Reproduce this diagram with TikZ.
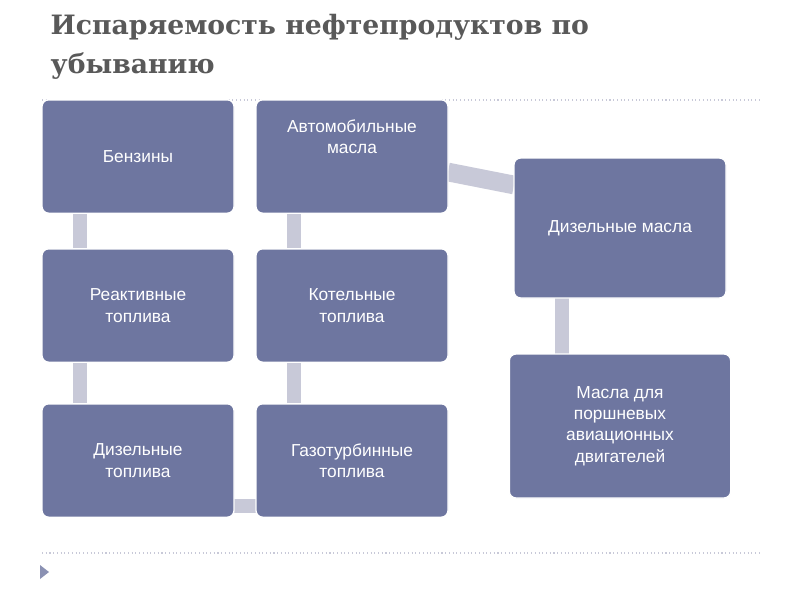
\documentclass[tikz,border=0pt]{standalone}
\usepackage{fontspec}
\setmainfont{Liberation Sans}
\newfontfamily\titlefont{DejaVu Serif}
\definecolor{boxc}{HTML}{6E76A0}
\definecolor{barc}{HTML}{C8C9D8}
\definecolor{titc}{HTML}{595959}
\begin{document}
\begin{tikzpicture}[x=0.75pt,y=-0.75pt,
  bx/.style={fill=boxc,draw=white,line width=1pt,rounded corners=5pt,text=white,align=center,font=\fontsize{13}{16}\selectfont,inner sep=0pt},
  bar/.style={draw=barc,line width=10pt}]
\useasboundingbox (0,0) rectangle (800,600);
\fill[white] (0,0) rectangle (800,600);
\node[anchor=west,text=titc,font=\titlefont\bfseries\fontsize{20}{24}\selectfont] (t1) at (46,27) {Испаряемость нефтепродуктов по};
\node[anchor=west,text=titc,font=\titlefont\bfseries\fontsize{20}{24}\selectfont] (t2) at (46,66) {убыванию};
\coordinate (d1) at (42,100); \coordinate (d2) at (760,100);
\coordinate (d3) at (42,553); \coordinate (d4) at (760,553);
\draw[barc,dotted,line width=0.8pt] (d1)--(d2);
\draw[barc,dotted,line width=0.8pt] (d3)--(d4);
\coordinate (tr) at (44,572);
\fill[boxc!80] (40,565) -- (49,572) -- (40,579) -- cycle;
% bars
\coordinate (b1) at (80,213); \coordinate (b2) at (80,249);
\coordinate (b3) at (80,362); \coordinate (b4) at (80,404);
\coordinate (b5) at (234,506); \coordinate (b6) at (256,506);
\coordinate (b7) at (294,213); \coordinate (b8) at (294,249);
\coordinate (b9) at (294,362); \coordinate (b10) at (294,404);
\coordinate (b11) at (448,172); \coordinate (b12) at (514,185);
\coordinate (b13) at (562,298); \coordinate (b14) at (562,354);
\draw[bar] (b1)--(b2); \draw[bar] (b3)--(b4); \draw[bar] (b5)--(b6);
\draw[bar] (b7)--(b8); \draw[bar] (b9)--(b10);
\draw[bar,line width=14pt] (b11)--(b12); \draw[bar] (b13)--(b14);
\node[bx,minimum width=144pt,minimum height=85pt] (n1) at (138,156.5) {Бензины};
\node[bx,minimum width=144pt,minimum height=85pt] (n2) at (138,305.5) {Реактивные\\топлива};
\node[bx,minimum width=144pt,minimum height=85pt] (n3) at (138,460.5) {Дизельные\\топлива};
\node[bx,minimum width=144pt,minimum height=85pt] (n4) at (352,156.5) {Автомобильные\\масла\\[14pt]};
\node[bx,minimum width=144pt,minimum height=85pt] (n5) at (352,305.5) {Котельные\\топлива};
\node[bx,minimum width=144pt,minimum height=85pt] (n6) at (352,460.5) {Газотурбинные\\топлива};
\node[bx,minimum width=159pt,minimum height=105pt] (n7) at (620,228) {Дизельные масла};
\node[bx,minimum width=166pt,minimum height=108pt] (n8) at (620,426) {Масла для\\поршневых\\авиационных\\двигателей};
\end{tikzpicture}
\end{document}
